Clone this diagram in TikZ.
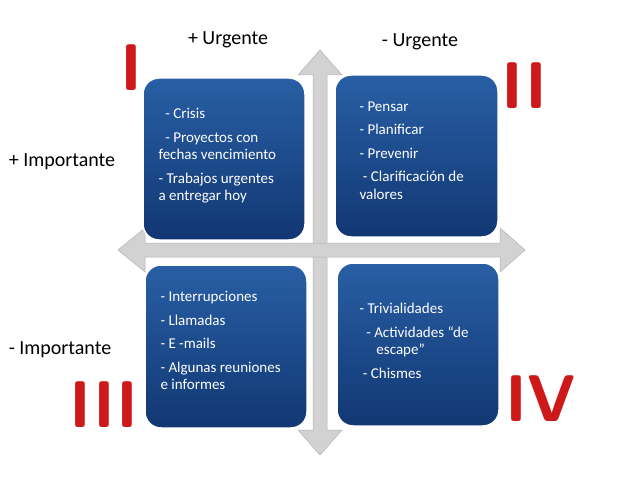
\documentclass[tikz,border=0pt]{standalone}
\usepackage{fontspec}
\setmainfont{Carlito}
\definecolor{btop}{RGB}{40,95,165}
\definecolor{bbot}{RGB}{18,55,115}
\definecolor{romred}{RGB}{205,25,25}
\begin{document}
\begin{tikzpicture}[x=1pt,y=-1pt,
  quad/.style={draw=white,line width=1.5pt,rounded corners=16pt,top color=btop,bottom color=bbot},
  txt/.style={text=white,font=\fontsize{15}{17.5}\selectfont,align=left,anchor=north west},
  lab/.style={font=\fontsize{20}{23}\selectfont,text=black},
  roman/.style={font=\fontsize{66}{66}\selectfont\bfseries\sffamily,text=romred},
  arr/.style={draw=gray!60,fill=gray!30,line width=0.5pt}]
\useasboundingbox (0,0) rectangle (640,500);
% arrows
\path[arr,fill=gray!35] (313,75) -- (298,75) -- (320,50) -- (342,75) -- (327,75) -- (327,430) -- (342,430) -- (320,455) -- (298,430) -- (313,430) -- cycle;
\path[arr,fill=gray!35] (145,243) -- (145,228) -- (118,250) -- (145,272) -- (145,257) -- (500,257) -- (500,272) -- (525,250) -- (500,228) -- (500,243) -- cycle;
% boxes
\path[quad] (143,78) rectangle (305,240); \node (q1) at (224,159) {};
\path[quad] (335,75) rectangle (498,237); \node (q2) at (416,156) {};
\path[quad] (145,265) rectangle (307,428); \node (q3) at (226,346) {};
\path[quad] (337,263) rectangle (499,426); \node (q4) at (418,344) {};
\node[txt] (t1) at (155,105) {\ \ - Crisis\\[6pt]\ \ - Proyectos con\\fechas vencimiento\\[6pt]- Trabajos urgentes\\a entregar hoy};
\node[txt] (t2) at (356,98) {- Pensar\\[6pt]- Planificar\\[6pt]- Prevenir\\[6pt]\ - Clarificación de\\valores};
\node[txt] (t3) at (157,288) {- Interrupciones\\[6pt]- Llamadas\\[6pt]- E -mails\\[6pt]- Algunas reuniones\\e informes};
\node[txt] (t4) at (356,300) {- Trivialidades\\[6pt]\ \ - Actividades “de\\\ \ \ \ \ escape”\\[6pt]\ - Chismes};
% labels
\node[lab] (l1) at (228,40) {+ Urgente};
\node[lab] (l2) at (420,42) {- Urgente};
\node[lab] (l3) at (62,162) {+ Importante};
\node[lab] (l4) at (60,350) {- Importante};
% roman numerals
\node[roman] (r1) at (131,68) {I};
\node[roman] (r2) at (524,86) {II};
\node[roman] (r3) at (104,405) {III};
\node[roman] (r4) at (541,399) {IV};
\end{tikzpicture}
\end{document}
